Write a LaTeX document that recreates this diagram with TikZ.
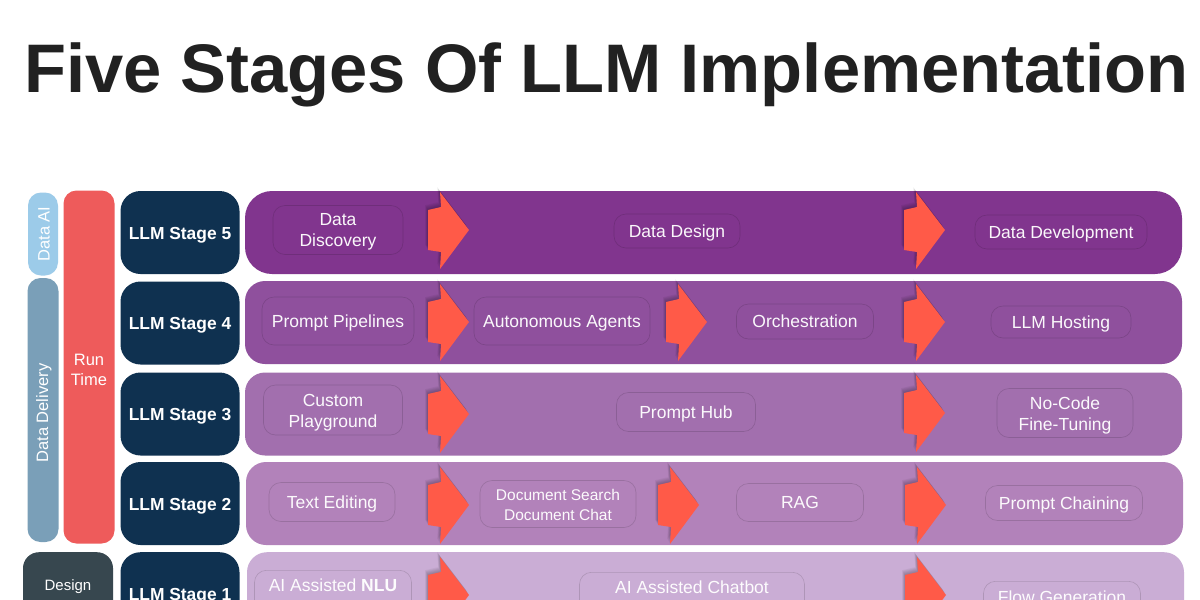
\documentclass[tikz,border=0pt]{standalone}
\usepackage{fontspec}
\setmainfont{Liberation Sans}
\usepackage{tikz}
\usetikzlibrary{arrows,%
                shapes,positioning}

\definecolor{navy}{HTML}{0F3150}
\definecolor{flame}{HTML}{FF5A48}
\definecolor{runred}{HTML}{EE5B5B}
\definecolor{skyblue}{HTML}{9CCBE9}
\definecolor{steel}{HTML}{7A9FB8}
\definecolor{slate}{HTML}{37474F}
\definecolor{bandE}{HTML}{81358E}
\definecolor{bandD}{HTML}{8F509D}
\definecolor{bandC}{HTML}{A26FAE}
\definecolor{bandB}{HTML}{B282BA}
\definecolor{bandA}{HTML}{CAADD5}

\newcommand{\taskstrut}{\rule[-3.8pt]{0pt}{20pt}}
\newcommand{\stagestrut}{\rule[-3.6pt]{0pt}{20.6pt}}
\newcommand{\leadstrut}[1]{\rule{0pt}{#1pt}}

\tikzset{
  blocknode/.style={rounded corners=#1, inner sep=0pt, align=center, text=white},
  stagebox/.style={blocknode=20pt, fill=navy, minimum width=119pt, minimum height=83pt, font=\fontsize{17.4}{20}\selectfont\bfseries, execute at begin node=\stagestrut},
  bandbox/.style={blocknode=20pt, minimum height=83pt},
  taskbox/.style={blocknode=12pt, draw=black!14!#1, line width=0.6pt, fill=#1, font=\fontsize{17.5}{21}\selectfont, text=white!96!#1, execute at begin node=\taskstrut},
  sidebox/.style={blocknode=13pt, font=\fontsize{16.5}{20}\selectfont},
  pics/stagearrow/.style={code={
    \foreach \i in {7,6,...,1}
      \fill[black, opacity=0.04, shift={(-\i*0.4pt,\i*0.7pt)}] (-13,-38) -- (-12,-23) -- (-25,-20) -- (-25,20) -- (-12,22) -- (-13,39) -- (16,0) -- cycle;
    \fill[flame] (-13,-38) -- (-12,-23) -- (-25,-20) -- (-25,20) -- (-12,22) -- (-13,39) -- (16,0) -- cycle;
  }}
}

\begin{document}
\begin{tikzpicture}[x=1pt,y=-1pt]
\useasboundingbox (0,0) rectangle (1200,600);
\clip (0,0) rectangle (1200,600);
\fill[white] (0,0) rectangle (1200,600);

\node[anchor=base west, inner sep=0pt, text=black!87, font=\fontsize{68.7}{72}\selectfont\bfseries] (title) at (24,92) {Five Stages Of LLM Implementation};

% side columns
\node[sidebox, fill=skyblue, minimum width=30pt, minimum height=83pt] (dataai) at (43,234) {\rotatebox{90}{\rule{0pt}{13.5pt}Data AI}};
\node[sidebox, fill=steel, minimum width=31pt, minimum height=264pt] (datadelivery) at (43,410) {\rotatebox{90}{\rule{0pt}{13.5pt}Data Delivery\hspace*{6pt}}};
\node[sidebox, fill=runred, minimum width=51pt, minimum height=353pt] (runtime) at (89,367) {\leadstrut{17}Run\\Time};
\node[sidebox, fill=slate, minimum width=90pt, minimum height=90pt, anchor=north, font=\fontsize{15}{25}\selectfont, rounded corners=16pt] (designtime) at (68,552) {Design\\Time};

% stage names
\node[stagebox] (stageE) at (180,232.5) {LLM Stage 5};
\node[stagebox] (stageD) at (180,323) {LLM Stage 4};
\node[stagebox] (stageC) at (180,414) {LLM Stage 3};
\node[stagebox] (stageB) at (180,503.5) {LLM Stage 2};
\node[stagebox, anchor=north] (stageA) at (180,552) {LLM Stage 1};

% bands
\node[bandbox, fill=bandE, minimum width=937pt, rounded corners=27pt] (bandfive) at (713.5,232.5) {};
\node[bandbox, fill=bandD, minimum width=937pt] (bandfour) at (713.5,322.5) {};
\node[bandbox, fill=bandC, minimum width=937pt] (bandthree) at (713.5,414) {};
\node[bandbox, fill=bandB, minimum width=937pt] (bandtwo) at (714.5,503.5) {};
\node[bandbox, fill=bandA, minimum width=937pt, anchor=north] (bandone) at (715.5,552) {};

% stage 5
\node[taskbox=bandE, minimum width=130pt, minimum height=49pt] (datadiscovery) at (338,230) {\leadstrut{16}Data\\Discovery};
\node[taskbox=bandE, minimum width=126pt, minimum height=34pt] (datadesign) at (677,231) {Data Design};
\node[taskbox=bandE, minimum width=172pt, minimum height=34pt] (datadev) at (1061,232) {Data Development};
% stage 4
\node[taskbox=bandD, minimum width=152pt, minimum height=48pt] (pipelines) at (338,321) {Prompt Pipelines};
\node[taskbox=bandD, minimum width=176pt, minimum height=48pt] (agents) at (562,321) {Autonomous Agents};
\node[taskbox=bandD, minimum width=137pt, minimum height=35pt] (orchestration) at (805,321.5) {Orchestration};
\node[taskbox=bandD, minimum width=140pt, minimum height=32pt] (hosting) at (1061,322) {LLM Hosting};
% stage 3
\node[taskbox=bandC, minimum width=139pt, minimum height=50pt] (playground) at (333,410) {\leadstrut{18}Custom\\Playground};
\node[taskbox=bandC, minimum width=139pt, minimum height=39pt] (prompthub) at (686,412) {Prompt Hub};
\node[taskbox=bandC, minimum width=136pt, minimum height=49pt] (finetuning) at (1065,413) {\leadstrut{18}No-Code\\Fine-Tuning};
% stage 2
\node[taskbox=bandB, minimum width=126pt, minimum height=39pt] (textediting) at (332,502) {Text Editing};
\node[taskbox=bandB, minimum width=156pt, minimum height=47pt, font=\fontsize{15.5}{20}\selectfont] (docsearch) at (558,504) {\leadstrut{16}Document Search\\Document Chat};
\node[taskbox=bandB, minimum width=127pt, minimum height=38pt] (rag) at (800,502.5) {RAG};
\node[taskbox=bandB, minimum width=157pt, minimum height=35pt] (chaining) at (1064,503) {Prompt Chaining};
% stage 1
\node[taskbox=bandA, minimum width=157pt, minimum height=50pt, anchor=north] (nlu) at (333,570) {\leadstrut{17}AI Assisted \textbf{NLU}\\\mbox{}};
\node[taskbox=bandA, minimum width=225pt, minimum height=50pt, anchor=north] (chatbot) at (692,572) {\leadstrut{18}AI Assisted Chatbot\\\mbox{}};
\node[taskbox=bandA, minimum width=157pt, minimum height=32pt, anchor=north] (flowgen) at (1062,581) {Flow Generation};

% arrows
\foreach \px/\py in {453/230, 453/322, 453/414, 453/505, 453/595,
                     929/230, 929/322, 929/413, 930/505, 930/595,
                     691/322, 683/505}
  \pic at (\px,\py) {stagearrow};
\end{tikzpicture}
\end{document}
